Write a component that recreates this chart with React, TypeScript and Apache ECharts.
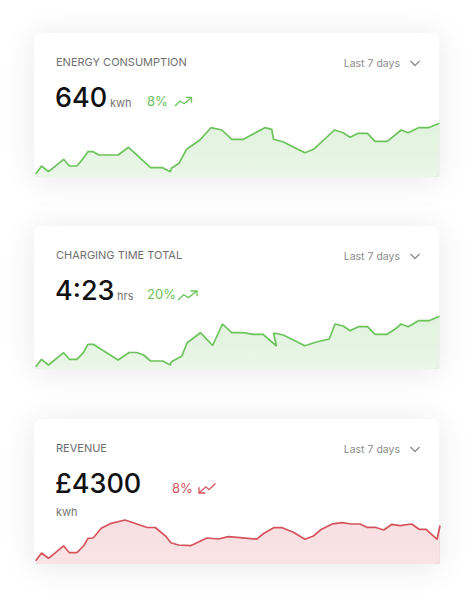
import React, { useEffect, useRef } from "react";
import * as echarts from "echarts";

// x values are days (0..7), y values are readings
const energyDays = [0.03,0.13,0.25,0.51,0.61,0.74,0.85,0.93,1.02,1.12,1.45,1.63,2.01,2.22,2.35,2.37,2.5,2.63,2.86,3.05,3.24,3.41,3.61,3.98,4.1,4.13,4.3,4.67,4.82,5.18,5.33,5.45,5.59,5.75,5.88,6.09,6.33,6.45,6.63,6.8,6.99];
const energyValues = [3,11,5.3,17.7,11,11,18.7,25.3,25.3,22,22,29.7,9.3,9.3,5.3,8.7,13.7,27.7,37,49.3,47,37.7,37.7,49.3,47.7,37.7,35,24.3,27.7,47,44.3,39.7,43.7,43.7,35.7,35.7,47,44.3,49.3,49.3,53.7];

const chargingDays = [0.03,0.13,0.25,0.51,0.61,0.74,0.85,0.93,1.02,1.45,1.64,1.77,1.89,2.01,2.22,2.35,2.37,2.55,2.64,2.87,3.08,3.25,3.41,3.61,3.78,3.95,4.18,4.13,4.3,4.67,4.87,5.09,5.19,5.33,5.45,5.59,5.75,5.88,6.09,6.22,6.33,6.45,6.63,6.81,6.99];
const chargingValues = [2.3,9.7,4,16.3,9.7,9.7,16.3,24.7,24.7,9,16.5,16.5,14,8,8,4,7.3,13,26.3,36.3,23.5,45,36.3,36.3,34.7,34.7,23,36,34,23.2,27,30,45,43,38.3,42.3,42.3,34.7,34.7,39.7,45,42.3,48.3,48.3,52.7];

const revenueDays = [0.03,0.13,0.25,0.51,0.61,0.74,0.86,0.93,1.02,1.16,1.33,1.57,1.94,2.09,2.28,2.36,2.49,2.7,2.98,3.18,3.35,3.55,3.84,3.96,4.14,4.28,4.48,4.67,4.81,4.95,5.15,5.31,5.47,5.62,5.74,5.88,6.03,6.17,6.31,6.51,6.64,6.76,6.95,7.0];
const revenueValues = [3.3,11,5.7,18.2,11.3,11.3,18.5,25.7,26,35.7,40.7,44,36.7,36.5,27.3,21.3,19,18.3,26,25,27.3,26.3,24.8,30.5,36.5,36.3,31.5,24.8,27.7,34.5,40.2,41.3,40,40,36.7,36.7,34,39.7,38.3,40,34.7,34.7,24.7,38.5];

const cardTitles = ["ENERGY CONSUMPTION", "CHARGING TIME TOTAL", "REVENUE"];
const periodLabel = "Last 7 days";
const bigValues = ["640", "4:23", "£4300"];
const units = ["kwh", "hrs", "kwh"];
const changes = ["8%", "20%", "8%"];

const GREEN = "#6cc35c";
const RED = "#d4535d";
const FONT = "Inter, 'Noto Sans', sans-serif";

const cards = [
  { top: 33, h: 144 },
  { top: 226, h: 143 },
  { top: 419, h: 145 },
];

function pairs(xs: number[], ys: number[]) {
  return xs.map((x, i) => [x, ys[i]]);
}

export default function App() {
  const ref = useRef<HTMLDivElement>(null);
  useEffect(() => {
    if (!ref.current) return;
    const chart = echarts.init(ref.current, undefined, { renderer: "svg" });
    const graphic: any[] = [];
    cards.forEach((c, i) => {
      graphic.push({
        type: "rect",
        z: 0,
        shape: { x: 34, y: c.top, width: 405, height: c.h, r: 8 },
        style: { fill: "#ffffff", shadowBlur: 30, shadowColor: "rgba(0,0,0,0.09)", shadowOffsetY: 3 },
      });
      graphic.push({
        type: "text", z: 5, x: 56, y: c.top + 29,
        style: { text: cardTitles[i], fill: "#707070", font: `400 11px ${FONT}`, verticalAlign: "middle", align: "left" },
      });
      graphic.push({
        type: "text", z: 5, x: 400, y: c.top + 30,
        style: { text: periodLabel, fill: "#8c8c8c", font: `400 10.5px ${FONT}`, verticalAlign: "middle", align: "right" },
      });
      graphic.push({
        type: "polyline", z: 5,
        shape: { points: [[410.5, c.top + 28], [415, c.top + 32.5], [419.5, c.top + 28]] },
        style: { stroke: "#8c8c8c", lineWidth: 1.3, fill: null },
      });
    });
    // big values
    const bigY = [97, 290, 483];
    bigValues.forEach((v, i) => {
      graphic.push({
        type: "text", z: 5, x: 55, y: bigY[i],
        style: { text: v, fill: "#111111", font: `500 27px ${FONT}`, verticalAlign: "middle", align: "left" },
      });
    });
    const unitPos = [[110, 103], [117, 296], [56, 512]];
    units.forEach((u, i) => {
      graphic.push({
        type: "text", z: 5, x: unitPos[i][0], y: unitPos[i][1],
        style: { text: u, fill: "#777777", font: `400 11px ${FONT}`, verticalAlign: "middle", align: "left" },
      });
    });
    const chgPos = [[147, 101], [147, 294], [172, 488]];
    const chgColors = [GREEN, GREEN, RED];
    changes.forEach((t, i) => {
      graphic.push({
        type: "text", z: 5, x: chgPos[i][0], y: chgPos[i][1],
        style: { text: t, fill: chgColors[i], font: `400 13px ${FONT}`, verticalAlign: "middle", align: "left" },
      });
    });
    // trend icons
    const up = (x0: number, y0: number, w: number, h: number, col: string) => {
      const p = (fx: number, fy: number) => [x0 + fx * w, y0 + fy * h];
      graphic.push({ type: "polyline", z: 5, shape: { points: [p(0, 1), p(0.3, 0.45), p(0.55, 0.75), p(1, 0.05)] }, style: { stroke: col, lineWidth: 1.3, fill: null } });
      graphic.push({ type: "polyline", z: 5, shape: { points: [p(0.66, 0.05), p(1, 0.05), p(1, 0.6)] }, style: { stroke: col, lineWidth: 1.3, fill: null } });
    };
    up(175, 97, 16.5, 9, GREEN);
    up(178, 290.5, 19, 9.5, GREEN);
    // down icon (arrow to bottom-left)
    {
      const x0 = 199, y0 = 483.5, w = 16.5, h = 9.5;
      const p = (fx: number, fy: number) => [x0 + fx * w, y0 + fy * h];
      graphic.push({ type: "polyline", z: 5, shape: { points: [p(0, 1), p(0.42, 0.35), p(0.6, 0.65), p(1, 0)] }, style: { stroke: RED, lineWidth: 1.3, fill: null } });
      graphic.push({ type: "polyline", z: 5, shape: { points: [p(0, 0.4), p(0, 1), p(0.38, 1)] }, style: { stroke: RED, lineWidth: 1.3, fill: null } });
    }

    const grids = cards.map((c) => ({ left: 34, top: c.top + c.h - 60, width: 406, height: 60 }));
    const xAxis = grids.map((_, i) => ({ type: "value", gridIndex: i, min: 0, max: 7, show: false }));
    const yAxis = grids.map((_, i) => ({ type: "value", gridIndex: i, min: 0, max: 60, show: false }));
    const area = (col: string, a1: number, a2: number) => ({
      color: new echarts.graphic.LinearGradient(0, 0, 0, 1, [
        { offset: 0, color: col.replace("A", String(a1)) },
        { offset: 1, color: col.replace("A", String(a2)) },
      ]),
      origin: "start",
    });
    const mk = (i: number, data: number[][], col: string, fill: string, a1: number, a2: number) => ({
      type: "line",
      xAxisIndex: i,
      yAxisIndex: i,
      data,
      showSymbol: false,
      symbol: "none",
      z: 3,
      lineStyle: { color: col, width: 1.7 },
      areaStyle: area(fill, a1, a2),
      silent: true,
    });
    chart.setOption({
      animation: false,
      grid: grids,
      xAxis,
      yAxis,
      graphic: { elements: graphic },
      series: [
        mk(0, pairs(energyDays, energyValues), GREEN, "rgba(108,195,92,A)", 0.3, 0.2),
        mk(1, pairs(chargingDays, chargingValues), GREEN, "rgba(108,195,92,A)", 0.3, 0.2),
        mk(2, pairs(revenueDays, revenueValues), RED, "rgba(222,90,100,A)", 0.27, 0.24),
      ],
    });
    return () => chart.dispose();
  }, []);
  return <div ref={ref} style={{ position: "absolute", left: 0, top: 0, width: 474, height: 600 }} />;
}
